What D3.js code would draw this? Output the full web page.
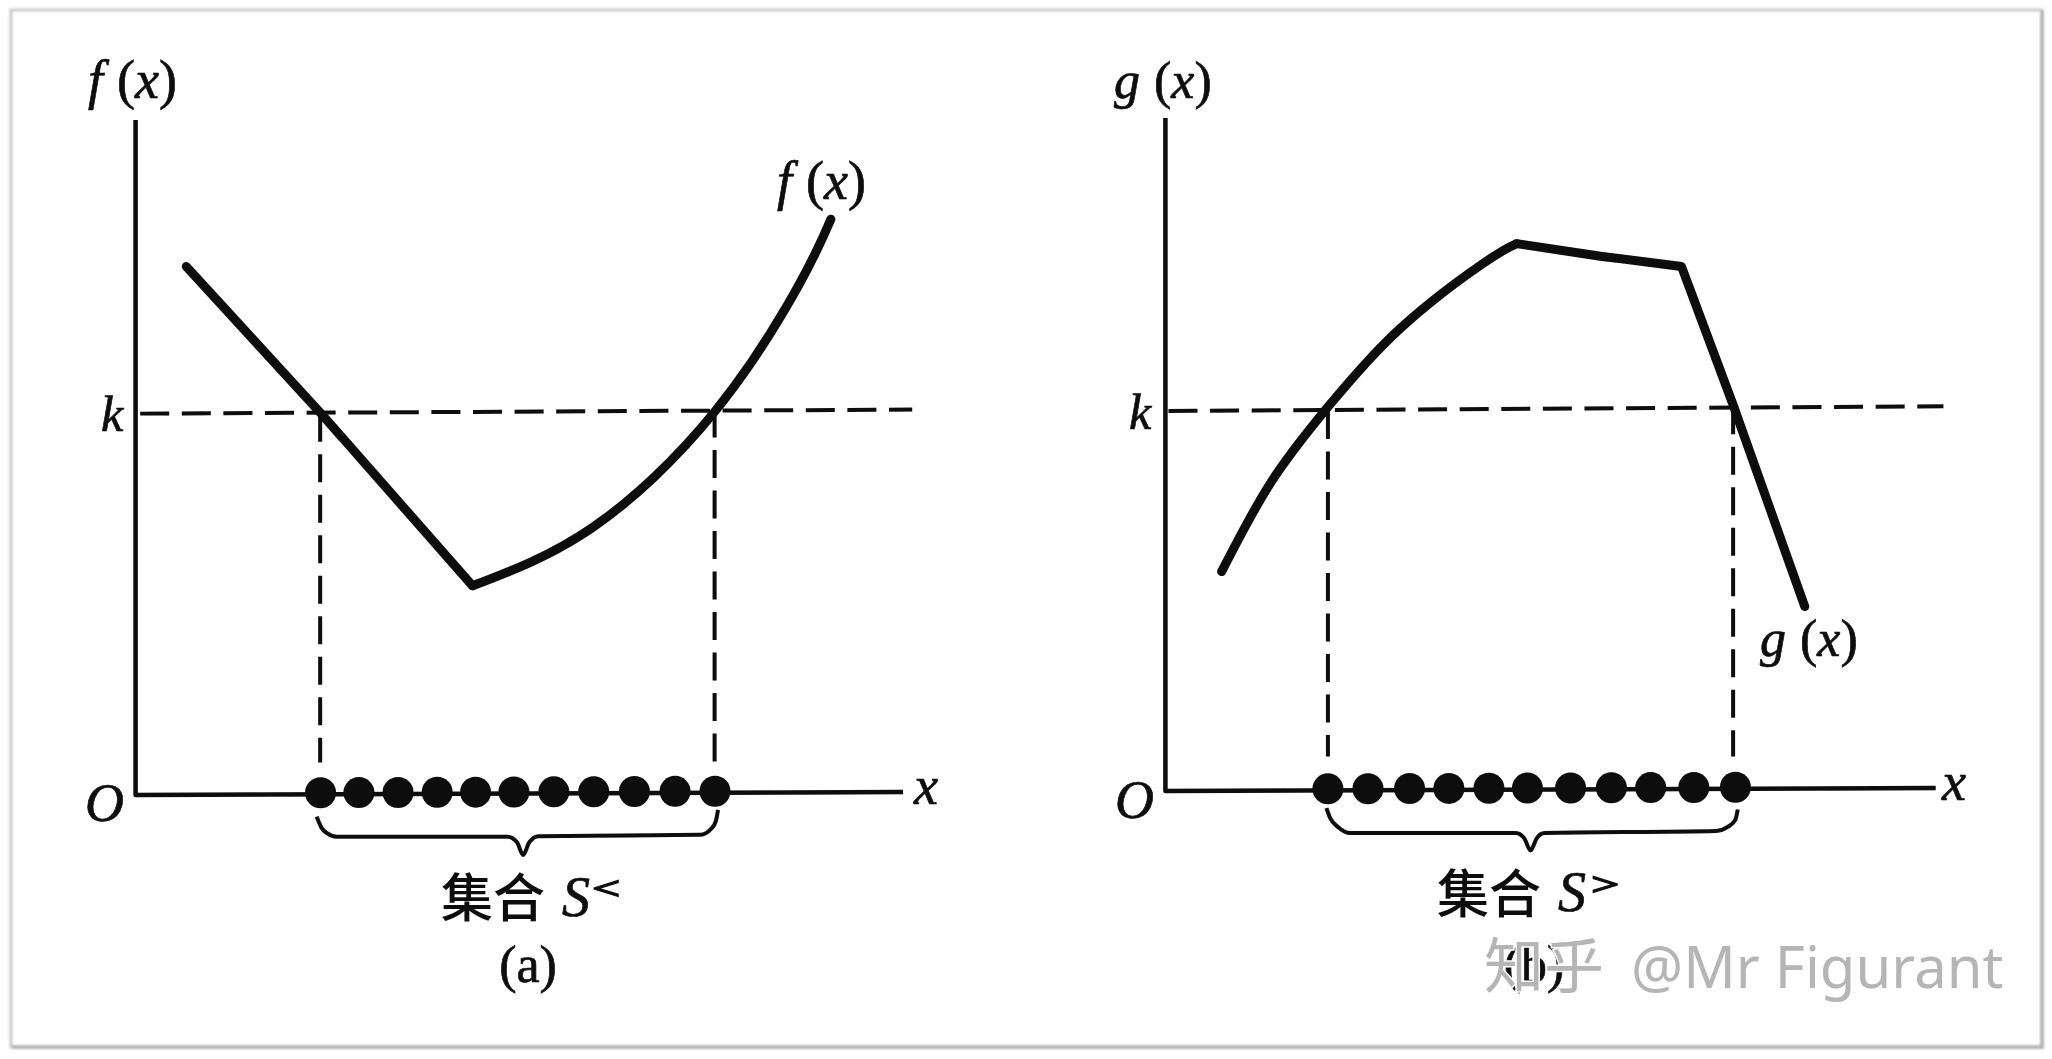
<!DOCTYPE html>
<html>
<head>
<meta charset="utf-8">
<script src="https://cdn.jsdelivr.net/npm/d3@7"></script>
<style>
  html, body { margin: 0; padding: 0; background: #fff; overflow: hidden; }
  text { fill: #0a0a0a; stroke: #0a0a0a; stroke-width: 0.7; font-family: "Liberation Serif", serif; }
</style>
</head>
<body>
<svg id="chart" width="2052" height="1059"></svg>
<script>
// values, both panels on a 0-100 scale
var kA = [56.5, 57.1];
var kB = [56.4, 57.1];
var axisTiltA = [0, 0.45];
var axisTiltB = [-0.15, 0.3];
var dropsA = [24.05, 75.45];
var dropsB = [21.1, 73.7];

var fFall = [[6.6, 78.3], [24.1, 56.6], [43.9, 31.0]];
var fRise = [[43.9, 31.0], [59.5, 39.6], [75.4, 56.7], [86.3, 75.3], [90.6, 85.3]];
var gRise = [[7.3, 32.5], [13.6, 45.6], [21.1, 57.0], [30.5, 68.7], [41.3, 78.4], [45.6, 81.3]];
var gFall = [[45.6, 81.3], [56.7, 79.4], [67.0, 77.9], [73.7, 57.3], [83.0, 27.3]];

var dotsA = [24.1, 29.1, 34.2, 39.3, 44.3, 49.3, 54.5, 59.7, 65.0, 70.3, 75.5];
var dotsB = [21.1, 26.3, 31.7, 36.8, 42.0, 47.0, 52.6, 57.9, 63.0, 68.6, 74.0];

var braceA = [[23.6, -3.2], [24.2, -4.8], [25.0, -5.7], [26.2, -6.2], [48.5, -6.2], [49.7, -7.0], [50.5, -8.9], [51.3, -7.0], [52.5, -6.1], [73.6, -5.9], [75.0, -5.0], [75.6, -3.9], [75.9, -2.2]];
var braceB = [[20.9, -2.7], [21.4, -4.2], [22.4, -5.5], [24.0, -6.4], [45.5, -6.4], [46.6, -7.2], [47.4, -9.0], [48.2, -7.2], [49.2, -6.4], [71.5, -6.1], [73.0, -5.5], [74.0, -4.4], [74.3, -2.9]];

var labelsA = { top: "f", side: "f", set: "<", caption: "(a)" };
var labelsB = { top: "g", side: "g", set: ">", caption: "(b)" };

var svg = d3.select("#chart");

var defs = svg.append("defs");
defs.append("filter").attr("id", "soft")
    .attr("x", "-2%").attr("y", "-2%").attr("width", "104%").attr("height", "104%")
    .append("feGaussianBlur").attr("stdDeviation", 0.55);
defs.append("filter").attr("id", "edge")
    .attr("x", "-2%").attr("y", "-2%").attr("width", "104%").attr("height", "104%")
    .append("feGaussianBlur").attr("stdDeviation", 1);

// picture frame
var frame = svg.append("g").attr("filter", "url(#edge)");
frame.append("rect")
    .attr("x", 11).attr("y", 10).attr("width", 2031).attr("height", 1037)
    .attr("fill", "#fff").attr("stroke", "#c9c9c9").attr("stroke-width", 3);
frame.append("path")
    .attr("d", "M2042,11V1047H12")
    .attr("fill", "none").attr("stroke", "#b4b4b4").attr("stroke-width", 4);

function drawPanel(p) {
    var g = svg.append("g").attr("filter", "url(#soft)");

    var x = d3.scaleLinear().domain([0, 100]).range([p.left, p.right]);
    var y = d3.scaleLinear().domain([0, 100]).range([p.bottom, p.top]);

    var line = d3.line().x(d => x(d[0])).y(d => y(d[1]));
    var smooth = d3.line().x(d => x(d[0])).y(d => y(d[1])).curve(d3.curveNatural);
    var brace = d3.line().x(d => x(d[0])).y(d => y(d[1])).curve(d3.curveMonotoneX);

    function stroke(sel, w) {
        return sel.attr("fill", "none").attr("stroke", "#0a0a0a").attr("stroke-width", w);
    }

    // axes
    stroke(g.append("path"), 4.5)
        .attr("stroke-linejoin", "round")
        .attr("d", line([[0, 100], [0, p.tilt[0]], [100, p.tilt[1]]]));

    // k level
    stroke(g.append("path"), 4)
        .attr("stroke-dasharray", "29,12.6")
        .attr("d", line([[p.kStart, p.k[0]], [p.kEnd, p.k[1]]]));

    // drop lines
    stroke(g.selectAll(".drop").data(p.drops).enter().append("path"), 4)
        .attr("class", "drop")
        .attr("stroke-dasharray", "28,12.5")
        .attr("d", (d, i) => line([[d, p.k[i]], [d, p.dropEnd]]));

    // curves
    p.straight.forEach(function (s) {
        stroke(g.append("path"), 9).attr("stroke-linejoin", "round").attr("stroke-linecap", "round").attr("d", line(s));
    });
    p.curved.forEach(function (s) {
        stroke(g.append("path"), 9).attr("stroke-linecap", "round").attr("d", smooth(s));
    });

    // set members on the axis
    g.selectAll(".dot").data(p.dots).enter().append("circle")
        .attr("class", "dot")
        .attr("cx", d => x(d))
        .attr("cy", d => y(d3.scaleLinear().domain([0, 100]).range(p.tilt)(d)) - 1.5)
        .attr("r", 15.5)
        .attr("fill", "#0a0a0a");

    // brace under the set
    stroke(g.append("path"), 4).attr("d", brace(p.brace));

    // labels
    function fx(pos, name) {
        var t = g.append("text").attr("x", pos[0]).attr("y", pos[1])
            .style("font-size", (name === "g" ? 52 : 54) + "px");
        t.append("tspan").style("font-style", "italic").text(name);
        t.append("tspan").attr("dx", 14).text("(");
        t.append("tspan").style("font-style", "italic").text("x");
        t.append("tspan").text(")");
    }
    fx(p.topPos, p.labels.top);
    fx(p.sidePos, p.labels.side);

    function it(pos, s, size) {
        g.append("text").attr("x", pos[0]).attr("y", pos[1])
            .style("font-size", size + "px").style("font-style", "italic").text(s);
    }
    it(p.kPos, "k", 50);
    it(p.oPos, "O", 54);
    it(p.xPos, "x", 54);

    g.append("text").attr("x", p.setPos[0]).attr("y", p.setPos[1])
        .style("font-family", "'Noto Sans CJK SC'").style("font-size", "52px").style("font-weight", 500)
        .style("stroke", "none")
        .text("集合");
    it(p.sPos, "S", 56);
    // the < and > on S are flat and wide in the print
    g.append("text")
        .attr("transform", "translate(" + p.supPos[0] + "," + p.supPos[1] + ") scale(1.2,0.75)")
        .style("font-size", "42px").style("font-weight", "bold").style("stroke-width", 1.5)
        .text(p.labels.set);

    g.append("text").attr("x", p.capX).attr("y", p.capY)
        .attr("text-anchor", "middle").style("font-size", "52px")
        .text(p.labels.caption);
}

drawPanel({
    left: 135.6, right: 903, bottom: 795, top: 120,
    tilt: axisTiltA, k: kA, kStart: 0.6, kEnd: 101.2, drops: dropsA, dropEnd: 4.8,
    straight: [fFall], curved: [fRise], dots: dotsA, brace: braceA, labels: labelsA,
    topPos: [88, 98], sidePos: [777, 199], kPos: [101, 431], oPos: [85, 821], xPos: [914, 804],
    setPos: [441, 917], sPos: [562, 916], supPos: [592, 899], capX: 528, capY: 982
});

drawPanel({
    left: 1165.4, right: 1935.7, bottom: 790, top: 118,
    tilt: axisTiltB, k: kB, kStart: 0.4, kEnd: 101, drops: dropsB, dropEnd: 5,
    straight: [gFall], curved: [gRise], dots: dotsB, brace: braceB, labels: labelsB,
    topPos: [1114, 98], sidePos: [1760, 656], kPos: [1129, 429], oPos: [1115, 818], xPos: [1942, 800],
    setPos: [1437, 913], sPos: [1558, 911], supPos: [1591, 895], capX: 1534, capY: 982
});

// site watermark, over the caption
var mark = svg.append("g").attr("filter", "url(#soft)");
[["知乎", 1484, "'Noto Sans CJK SC'", 60], ["@Mr Figurant", 1631, "'Noto Sans'", 58]].forEach(function (m) {
    mark.append("text").attr("x", m[1]).attr("y", 988)
        .style("font-family", m[2]).style("font-size", m[3] + "px")
        .style("fill", "#b5b5b5").style("stroke", "#fff").style("stroke-width", 3)
        .style("paint-order", "stroke")
        .text(m[0]);
});
</script>
</body>
</html>
